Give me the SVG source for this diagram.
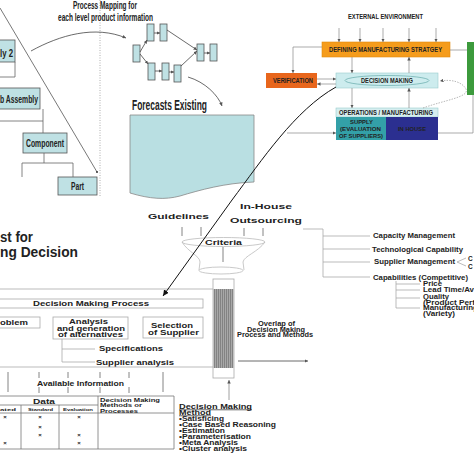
<svg xmlns="http://www.w3.org/2000/svg" width="474" height="474" viewBox="0 0 474 474">
<defs>
<style>
text{font-family:"Liberation Sans",Arial,sans-serif;font-weight:bold;fill:#222}
.c{stroke:#666;stroke-width:0.8;fill:none}
.g{stroke:#aaa;stroke-width:0.8;fill:none}
.bx{fill:#bfe1e4;stroke:#555;stroke-width:0.8}
.wb{fill:#fff;stroke:#aaa;stroke-width:0.8}
.s5{font-size:5.5px}
.s6{font-size:6.5px}
.s7{font-size:7px}
.sn{font-size:10px}
</style>
<marker id="a" viewBox="0 0 6 6" refX="6" refY="3" markerUnits="userSpaceOnUse" markerWidth="3.5" markerHeight="3.5" orient="auto"><path d="M0,0L6,3L0,6z" fill="#555"/></marker>
<marker id="b" viewBox="0 0 6 6" refX="6" refY="3" markerUnits="userSpaceOnUse" markerWidth="6" markerHeight="6" orient="auto"><path d="M0,0L6,3L0,6z" fill="#111"/></marker>
<pattern id="st" width="2" height="4" patternUnits="userSpaceOnUse"><rect width="2" height="4" fill="#a8a8a8"/><rect width="0.8" height="4" fill="#7a7a7a"/></pattern>
</defs>
<rect width="474" height="474" fill="#fff"/>

<!-- top-left hierarchy -->
<g id="hierarchy">
<line x1="100" y1="0" x2="100" y2="197" stroke="#999" stroke-width="0.8" stroke-dasharray="1,1.5"/>
<line x1="0" y1="8" x2="97" y2="172" stroke="#555" stroke-width="0.8"/>
<circle cx="97" cy="172" r="1" fill="#333"/>
<rect class="bx" x="-5" y="40" width="20" height="22"/>
<text class="sn" x="0" y="57" textLength="13" lengthAdjust="spacingAndGlyphs">ly 2</text>
<rect class="bx" x="-5" y="88" width="45" height="21"/>
<text class="sn" x="0" y="103" textLength="38" lengthAdjust="spacingAndGlyphs">b Assembly</text>
<rect class="bx" x="23" y="133" width="44" height="20"/>
<text class="sn" x="26" y="147" textLength="38" lengthAdjust="spacingAndGlyphs">Component</text>
<rect class="bx" x="58" y="177" width="39" height="18"/>
<text class="sn" x="71" y="190" textLength="13" lengthAdjust="spacingAndGlyphs">Part</text>
<path class="c" d="M15,62V77H0M43,109V133M0,121H43M44,153V163M22,163H73M22,163V177M73,163V177"/>
</g>

<!-- process mapping -->
<g id="process-map">
<text class="sn" x="73" y="9" textLength="64" lengthAdjust="spacingAndGlyphs">Process Mapping for</text>
<text class="sn" x="58" y="21" textLength="95" lengthAdjust="spacingAndGlyphs">each level product information</text>
<rect class="bx" x="133" y="45" width="7" height="17"/>
<rect class="bx" x="147" y="24" width="7" height="17"/>
<rect class="bx" x="160" y="24" width="7" height="17"/>
<rect class="bx" x="148" y="63" width="7" height="17"/>
<rect class="bx" x="162" y="63" width="7" height="17"/>
<rect class="bx" x="174" y="65" width="7" height="17"/>
<rect class="bx" x="197" y="44" width="7" height="17"/>
<rect class="bx" x="210" y="44" width="7" height="17"/>
</g>

<g id="forecasts">
<text x="132" y="110" font-size="15" textLength="75" lengthAdjust="spacingAndGlyphs">Forecasts Existing</text>
<path d="M130,115H254V182C225,183 200,190 180,196C165,200 150,199 130,193Z" fill="#b9dfe2" stroke="#888" stroke-width="0.8"/>
</g>

<!-- top right -->
<g id="strategy">
<text class="s6" x="348" y="19" textLength="75" lengthAdjust="spacingAndGlyphs">EXTERNAL ENVIRONMENT</text>
<rect x="322" y="42" width="128" height="15" fill="#f59c1c" stroke="#e08a10" stroke-width="0.6"/>
<text class="s6" x="329" y="52" textLength="113" lengthAdjust="spacingAndGlyphs">DEFINING MANUFACTURING STRATGEY</text>
</g>
<g id="verification">
<rect x="266" y="73" width="51" height="15" fill="#e8661c"/>
<text class="s6" x="273" y="83" textLength="40" lengthAdjust="spacingAndGlyphs">VERIFICATION</text>
</g>
<g id="decision-making">
<rect x="336" y="73" width="102" height="15" fill="#cdecee" stroke="#9cc" stroke-width="0.6"/>
<ellipse cx="387" cy="80.5" rx="42" ry="5" fill="none" stroke="#6aa" stroke-width="0.7"/>
<text class="s6" x="361" y="83" textLength="52" lengthAdjust="spacingAndGlyphs">DECISION MAKING</text>
</g>
<g id="operations">
<rect x="336" y="108" width="102" height="9" fill="#d6eef0" stroke="#9cc" stroke-width="0.6"/>
<text class="s6" x="339" y="115" textLength="94" lengthAdjust="spacingAndGlyphs">OPERATIONS / MANUFACTURING</text>
<rect x="336" y="117" width="50" height="23" fill="#33a0a8"/>
<rect x="386" y="117" width="52" height="23" fill="#2b2f90"/>
<text class="s5" x="350" y="124" textLength="23" lengthAdjust="spacingAndGlyphs">SUPPLY</text>
<text class="s5" x="340" y="131" textLength="41" lengthAdjust="spacingAndGlyphs">(EVALUATION</text>
<text class="s5" x="339" y="138" textLength="44" lengthAdjust="spacingAndGlyphs">OF SUPPLIERS)</text>
<text class="s5" x="398" y="131" textLength="28" lengthAdjust="spacingAndGlyphs">IN HOUSE</text>
</g>
<g id="green-box">
<rect x="467" y="42" width="12" height="53" fill="#3c9a3c"/>
</g>

<!-- criteria funnel -->
<g id="criteria">
<text class="s7" x="148" y="219" textLength="61" lengthAdjust="spacingAndGlyphs">Guidelines</text>
<text class="s7" x="240" y="209" textLength="52" lengthAdjust="spacingAndGlyphs">In-House</text>
<text class="s7" x="230" y="223" textLength="72" lengthAdjust="spacingAndGlyphs">Outsourcing</text>
<path d="M182,242C188,252 200,256 200,262L199,270M265,242C258,252 244,256 243,262L244,270" fill="none" stroke="#bbb" stroke-width="0.8"/>
<ellipse cx="223.5" cy="242" rx="41.5" ry="4.5" fill="none" stroke="#bbb" stroke-width="0.8"/>
<ellipse cx="221" cy="270.5" rx="22" ry="3.5" fill="none" stroke="#bbb" stroke-width="0.8"/>
<text class="s6" x="205" y="245" textLength="37" lengthAdjust="spacingAndGlyphs">Criteria</text>
<path class="c" d="M182,227V236M201,227V236M244,228V236M263,228V236M223,247V262"/>
</g>

<g id="criteria-tree">
<text class="s6" x="373" y="238" textLength="82" lengthAdjust="spacingAndGlyphs">Capacity Management</text>
<text class="s6" x="372" y="252" textLength="91" lengthAdjust="spacingAndGlyphs">Technological Capability</text>
<text class="s6" x="374" y="264" textLength="81" lengthAdjust="spacingAndGlyphs">Supplier Management</text>
<text class="s6" x="468" y="261">C</text>
<text class="s6" x="468" y="268.5">C</text>
<text class="s6" x="373" y="280" textLength="95" lengthAdjust="spacingAndGlyphs">Capabilities (Competitive)</text>
<text class="s6" x="423" y="286" textLength="19" lengthAdjust="spacingAndGlyphs">Price</text>
<text class="s6" x="423" y="292" textLength="51" lengthAdjust="spacingAndGlyphs">Lead Time/Av</text>
<text class="s6" x="423" y="299" textLength="26" lengthAdjust="spacingAndGlyphs">Quality</text>
<text class="s6" x="423" y="304.5" textLength="52" lengthAdjust="spacingAndGlyphs">(Product Perf</text>
<text class="s6" x="423" y="310" textLength="55" lengthAdjust="spacingAndGlyphs">Manufacturing</text>
<text class="s6" x="423" y="315.5" textLength="32" lengthAdjust="spacingAndGlyphs">(Variety)</text>
</g>

<!-- decision making process -->
<g id="title">
<text x="0" y="242" font-size="14" textLength="33" lengthAdjust="spacingAndGlyphs">st for</text>
<text x="0" y="257" font-size="14" textLength="78" lengthAdjust="spacingAndGlyphs">ng Decision</text>
</g>
<g id="process">
<line class="g" x1="0" y1="289" x2="213" y2="289"/>
<rect class="wb" x="-5" y="299" width="208" height="9"/>
<text class="s7" x="33" y="306" textLength="116" lengthAdjust="spacingAndGlyphs">Decision Making Process</text>
</g>
<g id="problem">
<rect class="wb" x="-5" y="317" width="45" height="11"/>
<text class="s7" x="0" y="325" textLength="28" lengthAdjust="spacingAndGlyphs">oblem</text>
</g>
<g id="analysis">
<rect class="wb" x="53" y="317" width="75" height="22"/>
<text class="s7" x="69" y="324" textLength="39" lengthAdjust="spacingAndGlyphs">Analysis</text>
<text class="s7" x="57" y="330.5" textLength="68" lengthAdjust="spacingAndGlyphs">and generation</text>
<text class="s7" x="58" y="337" textLength="65" lengthAdjust="spacingAndGlyphs">of alternatives</text>
</g>
<g id="selection">
<rect class="wb" x="143" y="317" width="60" height="21"/>
<text class="s7" x="151" y="328" textLength="42" lengthAdjust="spacingAndGlyphs">Selection</text>
<text class="s7" x="148" y="334.5" textLength="51" lengthAdjust="spacingAndGlyphs">of Supplier</text>
</g>
<g id="specs">
<path class="g" d="M62,339V362H95M62,349H95"/>
<text class="s7" x="99" y="350.5" textLength="64" lengthAdjust="spacingAndGlyphs">Specifications</text>
<text class="s7" x="96" y="364.5" textLength="78" lengthAdjust="spacingAndGlyphs">Supplier analysis</text>
</g>
<g id="overlap-bar">
<rect class="wb" x="213" y="279" width="21" height="99"/>
<rect x="213.5" y="289" width="20" height="79" fill="url(#st)"/>
<text class="s6" x="258" y="326" textLength="37" lengthAdjust="spacingAndGlyphs">Overlap of</text>
<text class="s6" x="247" y="331.5" textLength="58" lengthAdjust="spacingAndGlyphs">Decision Making</text>
<text class="s6" x="237" y="337" textLength="76" lengthAdjust="spacingAndGlyphs">Process and Methods</text>
</g>
<g id="available-info">
<line class="g" x1="0" y1="367" x2="213" y2="367"/>
<text class="s7" x="37" y="385.5" textLength="87" lengthAdjust="spacingAndGlyphs">Available Information</text>
<path class="c" d="M8,372V392M163,372V392M39,372V378M68,372V378M100,372V378M129,372V378M39,387V393M68,387V393M100,387V393M129,387V393"/>
</g>
<g id="data-table">
<path d="M-2,396H174M-2,405H98M-2,413H174M-2,449H174M98,396V449M174,396V449M21,405V449M59,405V449" fill="none" stroke="#777" stroke-width="0.8"/>
<text x="33" y="403.5" font-size="8" textLength="22" lengthAdjust="spacingAndGlyphs">Data</text>
<text x="0" y="410.5" font-size="4" font-weight="normal" fill="#444" textLength="16" lengthAdjust="spacingAndGlyphs">ated</text>
<text x="28" y="410.5" font-size="4" font-weight="normal" fill="#444" textLength="25" lengthAdjust="spacingAndGlyphs">Standard</text>
<text x="63" y="410.5" font-size="4" font-weight="normal" fill="#444" textLength="30" lengthAdjust="spacingAndGlyphs">Evaluation</text>
<text class="s5" x="100" y="401.5" textLength="60" lengthAdjust="spacingAndGlyphs">Decision Making</text>
<text class="s5" x="100" y="407" textLength="42" lengthAdjust="spacingAndGlyphs">Methods or</text>
<text class="s5" x="100" y="412.5" textLength="38" lengthAdjust="spacingAndGlyphs">Processes</text>
<g font-size="6" text-anchor="middle">
<text x="5" y="419">×</text><text x="40" y="419">×</text><text x="79" y="419">×</text>
<text x="40" y="429">×</text>
<text x="40" y="437">×</text><text x="79" y="437">×</text>
<text x="5" y="445">×</text><text x="79" y="445">×</text>
</g>
</g>
<g id="methods">
<text class="s7" x="179" y="408.5" textLength="73" lengthAdjust="spacingAndGlyphs" text-decoration="underline">Decision Making</text>
<text class="s7" x="179" y="414.5" textLength="32" lengthAdjust="spacingAndGlyphs" text-decoration="underline">Method</text>
<text class="s7" x="179" y="420.5" textLength="45" lengthAdjust="spacingAndGlyphs">•Satisficing</text>
<text class="s7" x="179" y="426.5" textLength="97" lengthAdjust="spacingAndGlyphs">•Case Based Reasoning</text>
<text class="s7" x="179" y="432.5" textLength="46" lengthAdjust="spacingAndGlyphs">•Estimation</text>
<text class="s7" x="179" y="438.5" textLength="72" lengthAdjust="spacingAndGlyphs">•Parameterisation</text>
<text class="s7" x="179" y="444.5" textLength="59" lengthAdjust="spacingAndGlyphs">•Meta Analysis</text>
<text class="s7" x="179" y="450.5" textLength="68" lengthAdjust="spacingAndGlyphs">•Cluster analysis</text>
</g>

<!-- connectors -->
<g id="connectors">
<path d="M31,51C60,35 95,25 126,38" fill="none" stroke="#444" stroke-width="0.8" marker-end="url(#a)"/>
<path d="M188,77C205,82 218,95 222,106" fill="none" stroke="#444" stroke-width="0.8" marker-end="url(#a)"/>
<g stroke="#444" stroke-width="0.8" marker-end="url(#a)">
<line x1="140" y1="52" x2="147" y2="40"/>
<line x1="140" y1="54" x2="148" y2="64"/>
<line x1="154" y1="33" x2="160" y2="33"/>
<line x1="155" y1="71" x2="162" y2="71"/>
<line x1="169" y1="72" x2="174" y2="72"/>
<line x1="167" y1="30" x2="197" y2="50"/>
<line x1="181" y1="66" x2="197" y2="51"/>
<line x1="204" y1="53" x2="210" y2="53"/>
</g>
<g stroke="#888" stroke-width="0.7" fill="none" marker-end="url(#a)">
<line x1="339" y1="28" x2="339" y2="42"/>
<line x1="360" y1="28" x2="360" y2="42"/>
<line x1="383" y1="28" x2="383" y2="42"/>
<line x1="409" y1="28" x2="409" y2="42"/>
<line x1="436" y1="28" x2="436" y2="42"/>
<path d="M322,47H293V73"/>
<line x1="317" y1="79" x2="336" y2="79"/>
<line x1="336" y1="84" x2="317" y2="84"/>
<line x1="352" y1="57" x2="352" y2="73"/>
<line x1="352" y1="88" x2="352" y2="108"/>
<line x1="409" y1="108" x2="409" y2="88"/>
<line x1="409" y1="73" x2="409" y2="57"/>
<line x1="287" y1="133" x2="336" y2="133"/>
</g>
<path d="M450,50H467M473,95V133H438" fill="none" stroke="#888" stroke-width="0.7"/>
<path d="M423,108C445,100 470,97 466,89C462,82 452,79 440,81" fill="none" stroke="#999" stroke-width="0.7" stroke-dasharray="1.5,1.2" marker-end="url(#a)"/>
<path d="M336,87C295,110 262,160 232,200L163,296" fill="none" stroke="#111" stroke-width="1" marker-end="url(#b)"/>
<path class="g" d="M303,229H323V277M323,236H370M323,249H370M323,262H370M323,277H370M396,281V308M396,284H420M396,290H420M396,298H420M396,308H420M457,262L466,258M457,262L466,266"/>
<line x1="238" y1="361" x2="308" y2="361" stroke="#444" stroke-width="0.8" marker-end="url(#a)"/>
<line x1="229" y1="400" x2="229" y2="380" stroke="#888" stroke-width="0.8" marker-end="url(#a)"/>
</g>
</svg>
